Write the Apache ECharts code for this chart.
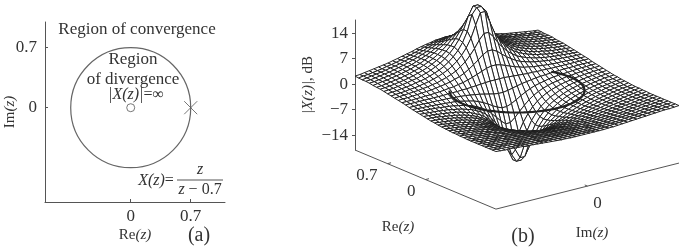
<!DOCTYPE html>
<html>
<head>
<meta charset="utf-8">
<style>html,body{margin:0;padding:0;background:#fff}#c{width:685px;height:248px}</style>
<script src="https://cdn.jsdelivr.net/npm/echarts@6/dist/echarts.min.js"></script>
</head>
<body>
<div id="c"></div>
<script>
// ---- data ----
var poleZeroTicks = [0, 0.7];
var dbTicks = [-14, -7, 0, 7, 14];
var zeroPoint = [[0, 0]];
var polePoint = [[0.7, 0]];
var divergenceCircle = [[0, 0, 0.7]];
var reGrid = [-1.3,-1.233,-1.167,-1.1,-1.033,-0.967,-0.9,-0.833,-0.767,-0.7,-0.633,-0.567,-0.5,-0.433,-0.367,-0.3,-0.233,-0.167,-0.1,-0.033,0.033,0.1,0.167,0.233,0.3,0.367,0.433,0.5,0.567,0.633,0.7,0.767,0.833,0.9,0.967,1.033,1.1,1.167,1.233,1.3];
var imGrid = [0.033,0.1,0.167,0.233,0.3,0.367,0.433,0.5,0.567,0.633,0.7,0.767,0.833,0.9,0.967,1.033,1.1,1.167,1.233,1.3]; // surface is mirrored about Im = 0
var surfaceDb = [
[-3.7,-3.7,-3.7,-3.7,-3.6,-3.6,-3.5,-3.4,-3.3,-3.2,-3.1,-3.0,-2.9,-2.8,-2.7,-2.6,-2.5,-2.5,-2.4,-2.3],
[-3.9,-3.9,-3.9,-3.8,-3.8,-3.7,-3.6,-3.5,-3.4,-3.3,-3.2,-3.1,-3.0,-2.9,-2.8,-2.7,-2.6,-2.5,-2.4,-2.3],
[-4.1,-4.1,-4.0,-4.0,-3.9,-3.8,-3.8,-3.7,-3.6,-3.4,-3.3,-3.2,-3.1,-3.0,-2.8,-2.7,-2.6,-2.5,-2.4,-2.3],
[-4.3,-4.3,-4.2,-4.2,-4.1,-4.0,-3.9,-3.8,-3.7,-3.5,-3.4,-3.3,-3.2,-3.0,-2.9,-2.8,-2.7,-2.5,-2.4,-2.3],
[-4.5,-4.5,-4.4,-4.4,-4.3,-4.2,-4.1,-3.9,-3.8,-3.7,-3.5,-3.4,-3.2,-3.1,-2.9,-2.8,-2.7,-2.6,-2.4,-2.3],
[-4.7,-4.7,-4.7,-4.6,-4.5,-4.4,-4.2,-4.1,-3.9,-3.8,-3.6,-3.5,-3.3,-3.1,-3.0,-2.8,-2.7,-2.6,-2.4,-2.3],
[-5.0,-5.0,-4.9,-4.8,-4.7,-4.6,-4.4,-4.2,-4.1,-3.9,-3.7,-3.5,-3.4,-3.2,-3.0,-2.9,-2.7,-2.6,-2.4,-2.3],
[-5.3,-5.3,-5.2,-5.1,-4.9,-4.8,-4.6,-4.4,-4.2,-4.0,-3.8,-3.6,-3.4,-3.2,-3.1,-2.9,-2.7,-2.6,-2.4,-2.3],
[-5.6,-5.6,-5.5,-5.4,-5.2,-5.0,-4.8,-4.6,-4.3,-4.1,-3.9,-3.7,-3.5,-3.3,-3.1,-2.9,-2.7,-2.6,-2.4,-2.3],
[-6.0,-6.0,-5.8,-5.7,-5.5,-5.3,-5.0,-4.8,-4.5,-4.2,-4.0,-3.7,-3.5,-3.3,-3.1,-2.9,-2.7,-2.5,-2.4,-2.2],
[-6.5,-6.4,-6.2,-6.0,-5.8,-5.5,-5.2,-4.9,-4.6,-4.3,-4.1,-3.8,-3.5,-3.3,-3.1,-2.9,-2.7,-2.5,-2.3,-2.2],
[-7.0,-6.9,-6.7,-6.5,-6.2,-5.8,-5.5,-5.1,-4.8,-4.4,-4.1,-3.8,-3.6,-3.3,-3.1,-2.8,-2.6,-2.5,-2.3,-2.1],
[-7.6,-7.5,-7.2,-6.9,-6.5,-6.1,-5.7,-5.3,-4.9,-4.5,-4.2,-3.8,-3.5,-3.3,-3.0,-2.8,-2.6,-2.4,-2.2,-2.1],
[-8.3,-8.2,-7.8,-7.4,-6.9,-6.4,-5.9,-5.5,-5.0,-4.6,-4.2,-3.8,-3.5,-3.2,-3.0,-2.7,-2.5,-2.3,-2.2,-2.0],
[-9.2,-9.0,-8.6,-8.0,-7.4,-6.8,-6.1,-5.6,-5.1,-4.6,-4.2,-3.8,-3.4,-3.1,-2.9,-2.6,-2.4,-2.2,-2.1,-1.9],
[-10.4,-10.0,-9.4,-8.6,-7.8,-7.0,-6.3,-5.7,-5.1,-4.6,-4.1,-3.7,-3.3,-3.0,-2.8,-2.5,-2.3,-2.1,-1.9,-1.8],
[-12.0,-11.4,-10.4,-9.3,-8.2,-7.3,-6.4,-5.7,-5.0,-4.5,-4.0,-3.6,-3.2,-2.9,-2.6,-2.4,-2.2,-2.0,-1.8,-1.7],
[-14.2,-13.0,-11.5,-9.9,-8.5,-7.4,-6.4,-5.6,-4.9,-4.3,-3.8,-3.4,-3.0,-2.7,-2.4,-2.2,-2.0,-1.8,-1.7,-1.5],
[-17.6,-15.1,-12.5,-10.3,-8.6,-7.3,-6.2,-5.3,-4.6,-4.0,-3.5,-3.1,-2.8,-2.5,-2.2,-2.0,-1.8,-1.6,-1.5,-1.4],
[-19.0,-16.9,-12.9,-10.3,-8.4,-7.0,-5.8,-5.0,-4.3,-3.7,-3.2,-2.8,-2.5,-2.2,-2.0,-1.8,-1.6,-1.4,-1.3,-1.2],
[-19.0,-16.1,-12.1,-9.5,-7.7,-6.3,-5.3,-4.4,-3.8,-3.2,-2.8,-2.4,-2.1,-1.9,-1.7,-1.5,-1.4,-1.2,-1.1,-1.0],
[-15.1,-12.7,-10.1,-8.1,-6.5,-5.3,-4.4,-3.7,-3.1,-2.7,-2.3,-2.0,-1.8,-1.5,-1.4,-1.2,-1.1,-1.0,-0.9,-0.8],
[-10.0,-8.9,-7.5,-6.2,-5.0,-4.1,-3.4,-2.8,-2.4,-2.0,-1.8,-1.5,-1.3,-1.2,-1.0,-0.9,-0.8,-0.7,-0.7,-0.6],
[-6.0,-5.5,-4.8,-4.0,-3.3,-2.7,-2.2,-1.9,-1.6,-1.3,-1.1,-1.0,-0.9,-0.8,-0.7,-0.6,-0.5,-0.5,-0.4,-0.4],
[-2.5,-2.3,-2.0,-1.7,-1.4,-1.2,-1.0,-0.8,-0.7,-0.6,-0.5,-0.4,-0.4,-0.3,-0.3,-0.3,-0.2,-0.2,-0.2,-0.2],
[0.8,0.8,0.7,0.6,0.5,0.4,0.3,0.3,0.2,0.2,0.2,0.1,0.1,0.1,0.1,0.1,0.1,0.1,0.1,0.1],
[4.2,3.9,3.4,2.9,2.4,2.0,1.6,1.4,1.1,1.0,0.8,0.7,0.6,0.5,0.5,0.4,0.4,0.3,0.3,0.3],
[7.9,7.2,6.1,5.1,4.2,3.4,2.8,2.4,2.0,1.7,1.5,1.3,1.1,1.0,0.9,0.8,0.7,0.6,0.6,0.5],
[12.3,10.8,8.8,7.2,5.8,4.8,3.9,3.3,2.8,2.4,2.0,1.8,1.5,1.4,1.2,1.1,1.0,0.9,0.8,0.7],
[17.6,14.5,11.2,8.9,7.2,5.9,4.9,4.1,3.5,3.0,2.6,2.2,2.0,1.7,1.5,1.4,1.2,1.1,1.0,0.9],
[18.6,17.0,12.7,10.0,8.1,6.7,5.6,4.7,4.0,3.5,3.0,2.6,2.3,2.1,1.8,1.6,1.5,1.3,1.2,1.1],
[18.6,16.2,12.8,10.4,8.6,7.2,6.1,5.2,4.5,3.9,3.4,3.0,2.6,2.4,2.1,1.9,1.7,1.5,1.4,1.3],
[15.7,14.0,12.0,10.2,8.6,7.4,6.3,5.5,4.8,4.2,3.7,3.3,2.9,2.6,2.3,2.1,1.9,1.7,1.6,1.5],
[13.0,12.2,10.9,9.6,8.4,7.3,6.4,5.6,5.0,4.4,3.9,3.5,3.1,2.8,2.5,2.3,2.1,1.9,1.7,1.6],
[11.1,10.7,9.9,9.0,8.0,7.2,6.4,5.7,5.1,4.5,4.1,3.6,3.3,3.0,2.7,2.5,2.2,2.1,1.9,1.7],
[9.8,9.5,9.0,8.3,7.6,6.9,6.2,5.6,5.1,4.6,4.1,3.8,3.4,3.1,2.8,2.6,2.4,2.2,2.0,1.9],
[8.8,8.6,8.2,7.7,7.2,6.6,6.0,5.5,5.0,4.6,4.2,3.8,3.5,3.2,2.9,2.7,2.5,2.3,2.1,2.0],
[7.9,7.8,7.5,7.2,6.7,6.3,5.8,5.4,4.9,4.5,4.2,3.8,3.5,3.3,3.0,2.8,2.6,2.4,2.2,2.0],
[7.3,7.2,7.0,6.7,6.3,6.0,5.6,5.2,4.8,4.5,4.1,3.8,3.5,3.3,3.0,2.8,2.6,2.4,2.3,2.1],
[6.7,6.6,6.5,6.2,6.0,5.7,5.4,5.0,4.7,4.4,4.1,3.8,3.5,3.3,3.1,2.9,2.7,2.5,2.3,2.2]
];
var floorDb = -18.1;
var floorReTicks = [0.7, 0];
var floorImTicks = [0];
var floorExtent = 1.3;
var ringOnSurface = [[0, 0, 0.76, 0]]; // centre Re, centre Im, radius, level in dB

// ---- oblique view of the (Re, Im, dB) box ----
var view = {x0: 162, xRe: -54.2, xIm: 70.4, dbRe: 6.24, dbIm: 4.86, dbOffset: -1.8};
function project(re, im, db) {
  return [view.x0 + view.xRe * re + view.xIm * im,
          db + view.dbOffset + view.dbRe * re + view.dbIm * im];
}

var ink = '#333';
var serif = '"Liberation Serif","Times New Roman",serif';
var labelRich = {
  r: {fontFamily: serif, fontSize: 15, color: ink},
  i: {fontFamily: serif, fontSize: 15, color: ink, fontStyle: 'italic'}
};
function text(x, y, str, size, extra) {
  var rich = {
    r: {fontFamily: serif, fontSize: size, fill: ink, color: ink},
    i: {fontFamily: serif, fontSize: size, fill: ink, color: ink, fontStyle: 'italic'}
  };
  return Object.assign({
    type: 'text', x: x, y: y, silent: true,
    style: {text: str, rich: rich, align: 'center', verticalAlign: 'middle', font: size + 'px ' + serif, fill: ink}
  }, extra || {});
}

// surface cells, far corner first so nearer cells paint over them
var surfaceCells = [];
var mirroredIm = imGrid.slice().reverse().map(function (v) { return -v; }).concat(imGrid);
function heightAt(r, m) {
  var half = imGrid.length;
  return surfaceDb[r][m < half ? half - 1 - m : m - half];
}
for (var r = reGrid.length - 2; r >= 0; r--) {
  for (var m = mirroredIm.length - 2; m >= 0; m--) {
    surfaceCells.push([reGrid[r], reGrid[r + 1], mirroredIm[m], mirroredIm[m + 1],
      heightAt(r, m), heightAt(r + 1, m), heightAt(r + 1, m + 1), heightAt(r, m + 1)]);
  }
}

function renderCell(params, api) {
  var re0 = api.value(0), re1 = api.value(1), im0 = api.value(2), im1 = api.value(3);
  var pts = [
    project(re0, im0, api.value(4)), project(re1, im0, api.value(5)),
    project(re1, im1, api.value(6)), project(re0, im1, api.value(7))
  ].map(function (p) { return api.coord(p); });
  return {type: 'polygon', shape: {points: pts},
    style: {fill: '#fff', stroke: '#1c1c1c', lineWidth: 0.95}};
}
function renderRing(params, api) {
  var cr = api.value(0), cm = api.value(1), rad = api.value(2), db = api.value(3);
  var pts = [];
  for (var a = -52; a >= -295; a -= 4) {
    var t = a * Math.PI / 180;
    pts.push(api.coord(project(cr + rad * Math.cos(t), cm + rad * Math.sin(t), db)));
  }
  return {type: 'polyline', shape: {points: pts},
    style: {fill: 'none', stroke: '#222', lineWidth: 2.2}};
}
function renderFloorAxes(params, api) {
  var e = floorExtent, kids = [];
  var pts = [[e, -e], [-e, -e], [-e, e]].map(function (p) { return api.coord(project(p[0], p[1], floorDb)); });
  kids.push({type: 'polyline', shape: {points: pts}, style: {fill: 'none', stroke: '#555', lineWidth: 1}});
  floorReTicks.forEach(function (v) {
    var a = api.coord(project(v, -e, floorDb)), b = api.coord(project(v, -e + 0.05, floorDb));
    kids.push({type: 'line', shape: {x1: a[0], y1: a[1], x2: b[0], y2: b[1]}, style: {stroke: '#555', lineWidth: 1}});
    kids.push({type: 'text', x: a[0] - 10, y: a[1] + 12, style: {text: String(v), font: '17px ' + serif, fill: ink, align: 'right', verticalAlign: 'middle'}});
  });
  floorImTicks.forEach(function (v) {
    var a = api.coord(project(-e, v, floorDb)), b = api.coord(project(-e + 0.05, v, floorDb));
    kids.push({type: 'line', shape: {x1: a[0], y1: a[1], x2: b[0], y2: b[1]}, style: {stroke: '#555', lineWidth: 1}});
    kids.push({type: 'text', x: a[0] + 10, y: a[1] + 17, style: {text: String(v), font: '17px ' + serif, fill: ink, align: 'center', verticalAlign: 'middle'}});
  });
  return {type: 'group', children: kids};
}
function renderCircle(params, api) {
  var c = api.coord([api.value(0), api.value(1)]);
  var s = api.size([api.value(2), 0]);
  return {type: 'circle', shape: {cx: c[0], cy: c[1], r: s[0]},
    style: {fill: 'none', stroke: '#666', lineWidth: 1.2}};
}

var axisLine = {show: true, onZero: false, lineStyle: {color: '#555', width: 1}};

var option = {
  animation: false,
  backgroundColor: '#fff',
  grid: [
    {left: 45, top: 22, width: 180, height: 180, outerBoundsMode: 'none'},
    {left: 355, top: 20, width: 330, height: 130, outerBoundsMode: 'none'}
  ],
  xAxis: [
    {type: 'value', gridIndex: 0, min: -1, max: 1.1, splitLine: {show: false}, axisLine: axisLine,
     axisTick: {show: true, inside: true, length: 3, customValues: poleZeroTicks, lineStyle: {color: '#555'}},
     axisLabel: {customValues: poleZeroTicks, margin: 6, formatter: function (v) { return String(v); }, color: ink, fontFamily: serif, fontSize: 17},
     name: '{r|Re}{i|(z)}', nameLocation: 'middle', nameGap: 26, nameMoveOverlap: false, nameTextStyle: {rich: labelRich}},
    {type: 'value', gridIndex: 1, min: 0, max: 330, show: false}
  ],
  yAxis: [
    {type: 'value', gridIndex: 0, min: -1.1, max: 1, splitLine: {show: false}, axisLine: axisLine,
     axisTick: {show: true, inside: true, length: 3, customValues: poleZeroTicks, lineStyle: {color: '#555'}},
     axisLabel: {customValues: poleZeroTicks, margin: 8, formatter: function (v) { return String(v); }, color: ink, fontFamily: serif, fontSize: 17},
     name: '{r|Im}{i|(z)}', nameLocation: 'middle', nameGap: 27, nameRotate: 90, nameMoveOverlap: false, nameTextStyle: {rich: labelRich}},
    {type: 'value', gridIndex: 1, min: -18.1, max: 17.6, splitLine: {show: false}, axisLine: axisLine,
     axisTick: {show: true, inside: false, length: 3, customValues: dbTicks, lineStyle: {color: '#555'}},
     axisLabel: {customValues: dbTicks, margin: 7, color: ink, fontFamily: serif, fontSize: 17,
       formatter: function (v) { return String(v).replace('-', '\u2212'); }},
     name: '{i||X(z)|}{r|, dB}', nameLocation: 'middle', nameGap: 39, nameRotate: 90, nameMoveOverlap: false, nameTextStyle: {rich: labelRich}}
  ],
  series: [
    {type: 'custom', xAxisIndex: 0, yAxisIndex: 0, silent: true, data: divergenceCircle, renderItem: renderCircle},
    {type: 'scatter', xAxisIndex: 0, yAxisIndex: 0, silent: true, data: zeroPoint, symbol: 'circle', symbolSize: 8,
     itemStyle: {color: '#fff', borderColor: '#555', borderWidth: 1}},
    {type: 'scatter', xAxisIndex: 0, yAxisIndex: 0, silent: true, data: polePoint, symbol: 'path://M0 0L10 10M10 0L0 10', symbolSize: 13,
     itemStyle: {color: 'none', borderColor: '#555', borderWidth: 1}},
    {type: 'custom', xAxisIndex: 1, yAxisIndex: 1, silent: true, data: [[0]], renderItem: renderFloorAxes, z: 1},
    {type: 'custom', xAxisIndex: 1, yAxisIndex: 1, silent: true, progressive: 0, data: surfaceCells, renderItem: renderCell, z: 2},
    {type: 'custom', xAxisIndex: 1, yAxisIndex: 1, silent: true, data: ringOnSurface, renderItem: renderRing, z: 3}
  ],
  graphic: {elements: [
    text(137, 30, 'Region of convergence', 17),
    text(133, 60, 'Region', 17),
    text(133, 80, 'of divergence', 17),
    text(136, 95, '{i||X(z)|}{r|=∞}', 16),
    text(156, 181, '{i|X(z)}{r|=}', 16),
    text(200, 170, '{i|z}', 16),
    text(200, 190, '{i|z}{r| − 0.7}', 16),
    {type: 'line', silent: true, shape: {x1: 177, y1: 180, x2: 223, y2: 180}, style: {stroke: '#555', lineWidth: 1}},
    text(199, 236, '(a)', 20),
    text(523, 237, '(b)', 20),
    text(398, 227, '{r|Re}{i|(z)}', 15),
    text(592, 233, '{r|Im}{i|(z)}', 15)
  ]}
};
var chart = echarts.init(document.getElementById('c'), null, {renderer: 'canvas'});
chart.setOption(option);
</script>
</body>
</html>
